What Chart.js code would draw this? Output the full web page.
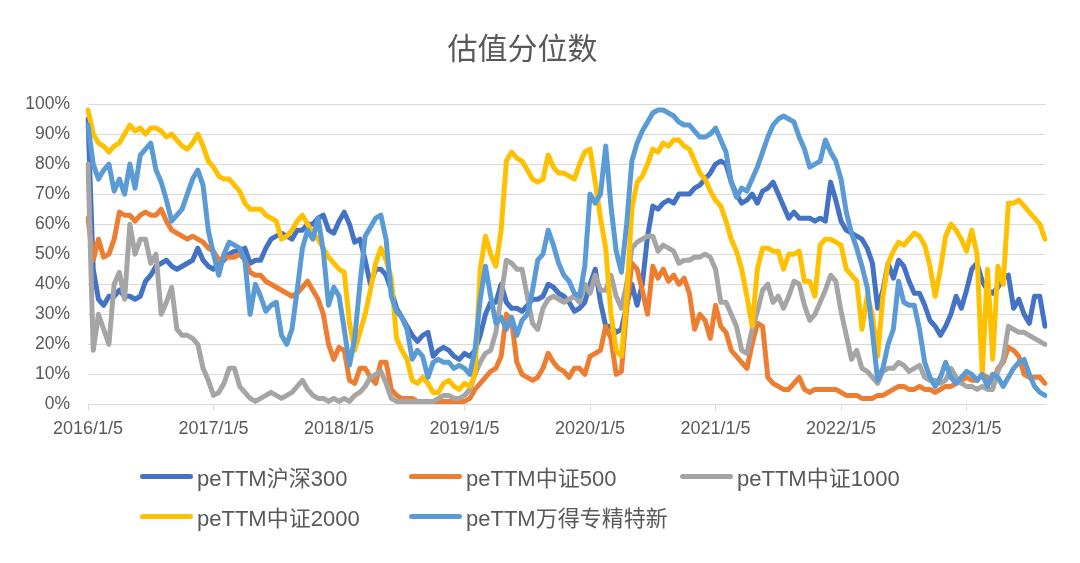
<!DOCTYPE html>
<html>
<head>
<meta charset="utf-8">
<script src="https://cdn.jsdelivr.net/npm/chart.js@4/dist/chart.umd.min.js"></script>
<style>
  body { margin: 0; background: #fff; }
  #wrap { position: relative; width: 1080px; height: 563px; }
  #legend { position: absolute; left: 0; top: 0; width: 1080px; height: 563px; pointer-events: none;
            font-family: "Liberation Sans", "Noto Sans CJK SC", sans-serif; font-size: 22px; color: #595959; }
  .item { position: absolute; display: flex; align-items: center; white-space: nowrap; }
  .item i { display: inline-block; width: 53px; height: 5px; border-radius: 3px; margin-right: 4px; }
</style>
</head>
<body>
<div id="wrap">
  <canvas id="pctChart" width="1080" height="563"></canvas>
  <div id="legend"></div>
</div>
<script>
// semi-monthly samples, 2016/1/5 .. 2023/8/20, values in %
const hs300 = [
  95,45,35,33,36,36,38,36,36,35, 36,41,43,46,47,48,46,45,46,47,
  48,52,48,46,45,47,48,50,51,51, 52,47,48,48,52,55,56,57,56,55,
  58,58,60,60,62,63,58,57,61,64, 60,54,55,48,40,45,45,43,38,32,
  29,26,23,21,23,24,16,18,19,18, 16,15,17,16,18,23,30,34,34,40,
  34,32,32,31,33,35,35,36,40,39, 37,36,34,31,32,34,40,45,34,26,
  26,24,25,33,40,33,40,56,66,65, 67,68,67,70,70,70,72,73,75,77,
  80,81,80,74,70,67,68,70,67,71, 72,74,70,66,62,64,62,62,62,61,
  62,61,74,68,61,58,57,56,55,52, 47,32,38,47,42,48,46,41,37,37,
  33,28,26,23,26,30,36,32,38,45, 47,41,38,37,39,42,43,32,35,30,
  27,36,36,26
]
const zz500 = [
  62,48,55,49,50,55,64,63,63,61, 63,64,63,63,65,61,58,57,56,55,
  56,55,54,52,51,48,49,49,49,50, 48,44,43,43,41,40,39,38,37,36,
  37,39,41,38,35,30,20,15,19,18, 8,7,12,12,9,7,14,14,5,3,
  2,2,2,1,1,1,1,1,1,1, 1,1,1,2,5,7,9,11,12,16,
  30,28,14,10,9,8,9,12,17,14, 12,11,9,12,12,10,16,17,18,26,
  22,10,11,32,47,45,38,30,46,42, 45,41,43,40,42,37,25,30,28,22,
  33,26,24,18,16,14,12,20,27,26, 9,7,6,5,5,7,9,5,4,5,
  5,5,5,5,4,3,3,3,2,2, 2,3,3,4,5,6,6,5,5,6,
  5,5,4,5,6,6,7,8,9,8, 8,10,9,7,12,14,19,18,16,10,
  9,9,9,7
]
const zz1000 = [
  80,18,30,25,20,40,44,35,60,50, 55,55,47,50,30,34,39,25,23,23,
  22,20,12,8,3,4,7,12,12,6, 4,2,1,2,3,4,3,2,3,4,
  6,8,5,3,2,2,1,2,1,2, 1,3,4,6,9,10,11,7,2,1,
  1,1,1,1,1,1,1,2,3,3, 2,2,3,5,10,14,17,18,24,36,
  48,47,45,45,36,27,25,32,35,36, 35,34,35,36,34,40,37,43,38,38,
  43,36,32,40,52,54,55,56,56,51, 53,52,51,47,48,48,49,49,50,49,
  45,34,34,30,26,18,17,25,31,38, 40,34,36,32,36,41,40,33,28,30,
  34,38,43,41,31,23,15,18,12,11, 9,7,11,12,12,14,13,11,12,13,
  9,8,8,7,8,12,9,7,6,6, 5,6,5,5,11,15,26,25,24,24,
  23,22,21,20
]
const zz2000 = [
  98,90,87,86,84,86,87,90,93,91, 92,90,92,92,91,89,90,88,86,85,
  87,90,86,81,79,76,75,75,73,71, 67,65,65,65,63,62,61,55,56,58,
  61,63,60,57,55,52,49,47,45,44, 27,18,24,30,38,47,52,48,42,22,
  18,15,8,7,9,7,4,4,7,8, 6,5,7,6,10,45,56,50,46,58,
  81,84,82,81,78,75,74,75,83,79, 77,77,76,75,80,84,85,74,62,52,
  30,18,16,35,65,74,76,80,85,84, 87,86,88,88,86,85,81,77,75,71,
  68,66,61,55,51,45,36,26,45,52, 52,51,51,45,50,50,51,41,41,36,
  53,55,55,54,53,45,43,41,25,36, 30,16,36,47,51,54,53,55,57,56,
  53,46,36,45,56,60,58,55,51,58, 50,10,45,15,46,40,67,67,68,66,
  64,62,60,55
]
const wdzj = [
  93,80,75,78,80,71,75,70,80,72, 83,85,87,78,74,68,61,63,65,70,
  75,78,73,58,50,43,50,54,53,52, 48,30,40,36,31,33,34,23,20,25,
  38,52,58,55,62,51,33,39,36,25, 13,22,40,56,59,62,63,55,36,31,
  29,25,15,18,16,9,14,15,14,14, 12,13,12,10,18,35,46,36,27,29,
  25,29,23,28,30,38,48,50,58,53, 47,43,41,37,36,46,70,67,70,86,
  66,51,44,60,81,87,91,94,97,98, 98,97,96,94,93,93,91,89,89,90,
  92,88,84,74,69,72,71,75,79,84, 89,93,95,96,95,94,89,85,79,80,
  81,88,84,81,75,64,57,52,46,39, 24,8,12,20,25,41,34,33,33,25,
  14,9,6,9,14,9,7,9,11,10, 8,10,6,10,9,6,9,12,14,15,
  10,6,4,3
]

const seriesNames = ["peTTM沪深300", "peTTM中证500", "peTTM中证1000", "peTTM中证2000", "peTTM万得专精特新"]
const seriesColors = ["#4472C4", "#ED7D31", "#A5A5A5", "#FFC000", "#5B9BD5"]
const yearTicks = ["2016/1/5", "2017/1/5", "2018/1/5", "2019/1/5", "2020/1/5", "2021/1/5", "2022/1/5", "2023/1/5"]

// category labels: the 5th and 20th of each month
const dates = []
for (let k = 0; k < hs300.length; k++) {
    const y = 2016 + Math.floor(k / 24)
    const m = Math.floor((k % 24) / 2) + 1
    dates.push(y + "/" + m + "/" + (k % 2 ? 20 : 5))
}

const font = "'Liberation Sans', 'Noto Sans CJK SC', sans-serif"
const values = [hs300, zz500, zz1000, zz2000, wdzj]

const ctx = document.getElementById("pctChart")

new Chart(ctx, {
    type: "line",
    data: {
        labels: dates,
        datasets: values.map((v, i) => ({
            label: seriesNames[i],
            data: v,
            borderColor: seriesColors[i],
            backgroundColor: seriesColors[i],
            borderWidth: 5,
            borderJoinStyle: "round",
            borderCapStyle: "round",
            pointRadius: 0,
            tension: 0,
            order: values.length - 1 - i
        }))
    },
    options: {
        responsive: false,
        animation: false,
        devicePixelRatio: 1,
        layout: { padding: { left: 0, right: 35, top: 0, bottom: 115 } },
        plugins: {
            legend: { display: false },
            tooltip: { enabled: false },
            title: {
                display: true,
                text: "估值分位数",
                color: "#595959",
                font: { family: font, size: 30, weight: "normal" },
                padding: { top: 33, bottom: 35 }
            }
        },
        scales: {
            x: {
                offset: false,
                grid: { drawOnChartArea: false, tickLength: 6, color: "#d9d9d9" },
                border: { color: "#d9d9d9" },
                ticks: {
                    autoSkip: false, maxRotation: 0, padding: 8,
                    color: "#595959", font: { family: font, size: 18 }
                },
                afterBuildTicks: axis => {
                    axis.ticks = axis.ticks.filter(t => yearTicks.includes(dates[t.value]))
                }
            },
            y: {
                min: 0,
                max: 100,
                grid: { color: "#d9d9d9", drawTicks: false },
                border: { display: false },
                ticks: {
                    stepSize: 10, padding: 18,
                    color: "#595959", font: { family: font, size: 17.5 },
                    callback: v => v + "%"
                },
                afterFit: s => { s.width = 88 }
            }
        }
    }
})

// legend laid out in the same three columns as the reference
const legend = document.getElementById("legend")
const legendPos = [[140, 476], [409, 476], [680, 476], [140, 516], [409, 516]]
seriesNames.forEach((name, i) => {
    const el = document.createElement("div")
    el.className = "item"
    el.style.left = legendPos[i][0] + "px"
    el.style.top = (legendPos[i][1] - 14) + "px"
    el.style.height = "28px"
    el.innerHTML = '<i style="background:' + seriesColors[i] + '"></i>' + name
    legend.appendChild(el)
})
</script>
</body>
</html>
